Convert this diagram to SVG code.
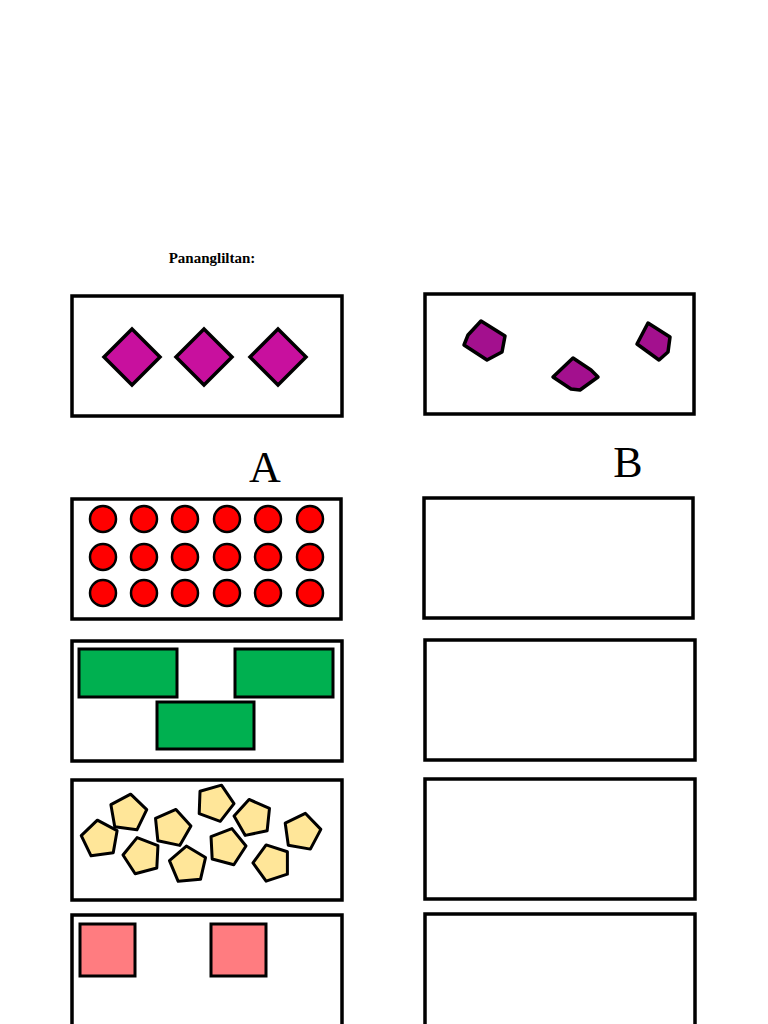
<svg xmlns="http://www.w3.org/2000/svg" width="768" height="1024" viewBox="0 0 768 1024">
<style>
.box{fill:#fff;stroke:#000;stroke-width:3.5}
.dia{fill:#c8109e;stroke:#000;stroke-width:3.5}
.blob{fill:#a3108e;stroke:#000;stroke-width:3.5;stroke-linejoin:round}
.dot{fill:#f00;stroke:#000;stroke-width:2.5}
.grn{fill:#00b050;stroke:#000;stroke-width:3}
.pen{fill:#ffe699;stroke:#000;stroke-width:3;stroke-linejoin:round}
.pink{fill:#ff7c80;stroke:#000;stroke-width:3}
.lbl{font-family:"Liberation Serif",serif;font-size:44px}
</style>
<defs>
<polygon id="p" points="0,-19 18.1,-5.9 11.2,15.4 -11.2,15.4 -18.1,-5.9"/>
<circle id="d" r="13"/>
</defs>
<text x="212" y="263" font-family="Liberation Serif,serif" font-size="15" font-weight="bold" text-anchor="middle">Panangliltan:</text>
<g id="exA">
<rect class="box" x="72" y="296" width="270" height="120"/>
<polygon class="dia" points="132,329 160,357 132,385 104,357"/>
<polygon class="dia" points="204,329 232,357 204,385 176,357"/>
<polygon class="dia" points="278,329 306,357 278,385 250,357"/>
</g>
<g id="exB">
<rect class="box" x="425" y="294" width="269" height="120"/>
<path class="blob" d="M481,321 L505,336 L502,352 L487,360 L464,345 L468,335 Z"/>
<path class="blob" d="M573,358 L591,370 L598,377 L580,390 L571,389 L553,377 Z"/>
<path class="blob" d="M648,323 L670,337 L668,352 L659,360 L637,344 Z"/>
</g>
<text class="lbl" x="265" y="482" text-anchor="middle">A</text>
<text class="lbl" x="628" y="477" text-anchor="middle">B</text>
<g id="a1">
<rect class="box" x="72" y="499" width="269" height="120"/>
<g class="dot">
<use href="#d" x="103" y="519"/><use href="#d" x="144" y="519"/><use href="#d" x="185" y="519"/><use href="#d" x="227" y="519"/><use href="#d" x="268" y="519"/><use href="#d" x="310" y="519"/>
<use href="#d" x="103" y="557"/><use href="#d" x="144" y="557"/><use href="#d" x="185" y="557"/><use href="#d" x="227" y="557"/><use href="#d" x="268" y="557"/><use href="#d" x="310" y="557"/>
<use href="#d" x="103" y="593"/><use href="#d" x="144" y="593"/><use href="#d" x="185" y="593"/><use href="#d" x="227" y="593"/><use href="#d" x="268" y="593"/><use href="#d" x="310" y="593"/>
</g>
</g>
<g id="b1"><rect class="box" x="424" y="498" width="269" height="120"/></g>
<g id="a2">
<rect class="box" x="72" y="641" width="270" height="120"/>
<rect class="grn" x="79" y="649" width="98" height="48"/>
<rect class="grn" x="235" y="649" width="98" height="48"/>
<rect class="grn" x="157" y="702" width="97" height="47"/>
</g>
<g id="b2"><rect class="box" x="425" y="640" width="270" height="120"/></g>
<g id="a3">
<rect class="box" x="72" y="780" width="270" height="120"/>
<g class="pen">
<use href="#p" transform="translate(100,839) rotate(-8)"/>
<use href="#p" transform="translate(128,813) rotate(8)"/>
<use href="#p" transform="translate(142,856) rotate(-15)"/>
<use href="#p" transform="translate(172,828) rotate(12)"/>
<use href="#p" transform="translate(188,865) rotate(-5)"/>
<use href="#p" transform="translate(215,803) rotate(20)"/>
<use href="#p" transform="translate(227,847) rotate(15)"/>
<use href="#p" transform="translate(253,818) rotate(-12)"/>
<use href="#p" transform="translate(272,863) rotate(-18)"/>
<use href="#p" transform="translate(302,832) rotate(10)"/>
</g>
</g>
<g id="b3"><rect class="box" x="425" y="779" width="270" height="120"/></g>
<g id="a4">
<rect class="box" x="72" y="915" width="270" height="130"/>
<rect class="pink" x="80" y="924" width="55" height="52"/>
<rect class="pink" x="211" y="924" width="55" height="52"/>
</g>
<g id="b4"><rect class="box" x="425" y="914" width="270" height="130"/></g>
</svg>
